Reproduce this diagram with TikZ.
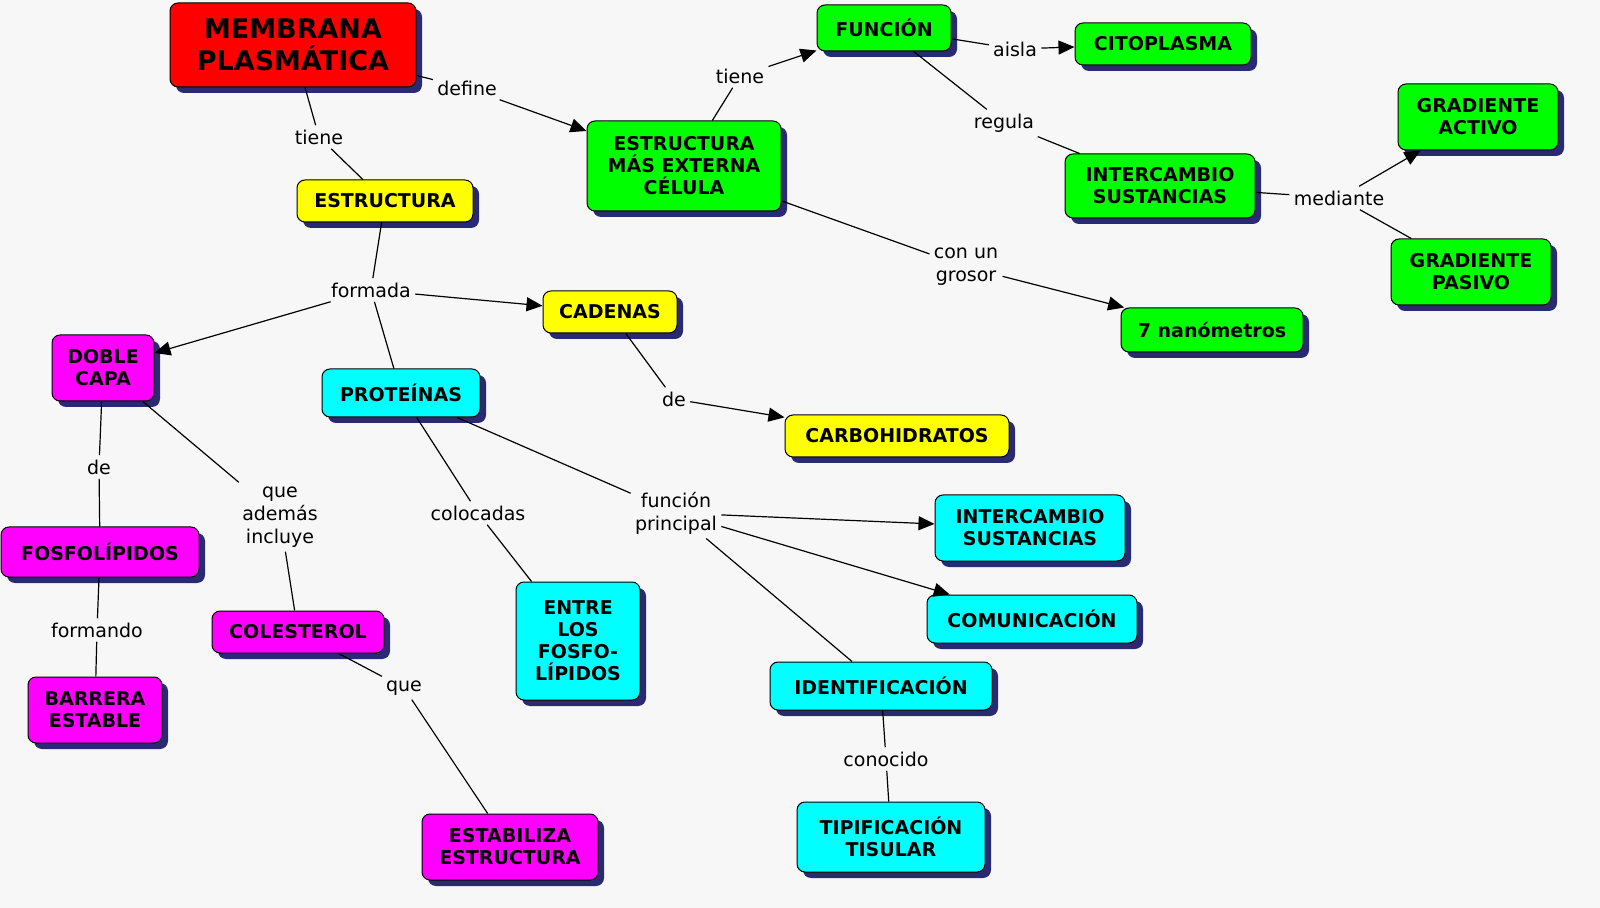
\documentclass[tikz,border=0pt]{standalone}
\usepackage{fontspec}
\setmainfont{DejaVu Sans}
\usetikzlibrary{shadows,arrows.meta}
\definecolor{navy}{HTML}{2A2A72}
\definecolor{cR}{HTML}{FF0000}
\definecolor{cY}{HTML}{FFFF00}
\definecolor{cG}{HTML}{00FF00}
\definecolor{cM}{HTML}{FF00FF}
\definecolor{cC}{HTML}{00FFFF}
\begin{document}
\begin{tikzpicture}[x=0.5pt,y=-0.5pt,
 box/.style={draw=black,line width=0.5pt,rounded corners=4pt,font=\bfseries\fontsize{9.5}{11}\selectfont,align=center,inner sep=1pt,
   drop shadow={shadow xshift=3pt,shadow yshift=-3pt,fill=navy,opacity=1}},
 red/.style={box,fill=cR},
 yel/.style={box,fill=cY},
 grn/.style={box,fill=cG},
 mag/.style={box,fill=cM},
 cya/.style={box,fill=cC},
 lab/.style={fill=white!97!black,font=\fontsize{9.5}{11.5}\selectfont,align=center,inner sep=2pt},
 ln/.style={line width=0.6pt},
 ar/.style={line width=0.6pt,-{Triangle[length=8pt,width=7pt]}}]
\fill[white!97!black] (0,0) rectangle (1600,908);
% nodes
\node[red,minimum width=123pt,minimum height=42pt,font=\bfseries\fontsize{13.5}{16}\selectfont] (mp) at (293,45) {MEMBRANA\\PLASMÁTICA};
\node[yel,minimum width=88pt,minimum height=21pt] (est) at (385,201) {ESTRUCTURA};
\node[grn,minimum width=97pt,minimum height=45pt] (eme) at (684,166) {ESTRUCTURA\\MÁS  EXTERNA\\CÉLULA};
\node[grn,minimum width=67pt,minimum height=23pt] (fun) at (884,28) {FUNCIÓN};
\node[grn,minimum width=88pt,minimum height=21pt] (cit) at (1163,44) {CITOPLASMA};
\node[grn,minimum width=95pt,minimum height=32pt] (int1) at (1160,186) {INTERCAMBIO\\SUSTANCIAS};
\node[grn,minimum width=80pt,minimum height=33pt] (ga) at (1478,117) {GRADIENTE\\ACTIVO};
\node[grn,minimum width=80pt,minimum height=33pt] (gp) at (1471,272) {GRADIENTE\\PASIVO};
\node[grn,minimum width=91pt,minimum height=22pt] (nm) at (1212,330) {7 nanómetros};
\node[yel,minimum width=67pt,minimum height=21pt] (cad) at (610,312) {CADENAS};
\node[yel,minimum width=112pt,minimum height=21pt] (car) at (897,436) {CARBOHIDRATOS};
\node[mag,minimum width=51pt,minimum height=33pt] (dc) at (103,368) {DOBLE\\CAPA};
\node[cya,minimum width=79pt,minimum height=24pt] (pro) at (401,393) {PROTEÍNAS};
\node[mag,minimum width=99pt,minimum height=25pt] (fos) at (100,552) {FOSFOLÍPIDOS};
\node[mag,minimum width=86pt,minimum height=21pt] (col) at (298,632) {COLESTEROL};
\node[mag,minimum width=67pt,minimum height=33pt] (bar) at (95,710) {BARRERA\\ESTABLE};
\node[mag,minimum width=88pt,minimum height=33pt] (eso) at (510,847) {ESTABILIZA\\ESTRUCTURA};
\node[cya,minimum width=62pt,minimum height=59pt] (ent) at (578,641) {ENTRE\\LOS\\FOSFO-\\LÍPIDOS};
\node[cya,minimum width=95pt,minimum height=33pt] (int2) at (1030,528) {INTERCAMBIO\\SUSTANCIAS};
\node[cya,minimum width=105pt,minimum height=24pt] (com) at (1032,619) {COMUNICACIÓN};
\node[cya,minimum width=111pt,minimum height=24pt] (ide) at (881,686) {IDENTIFICACIÓN};
\node[cya,minimum width=94pt,minimum height=35pt] (tip) at (891,837) {TIPIFICACIÓN\\TISULAR};
% labels
\node[lab] (l1) at (467,88) {define};
\node[lab] (l2) at (319,137) {tiene};
\node[lab] (l3) at (740,76) {tiene};
\node[lab] (l4) at (1015,49) {aisla};
\node[lab] (l5) at (1004,123) {regula};
\node[lab] (l6) at (1339,198) {mediante};
\node[lab] (l7) at (966,267) {con un\\grosor};
\node[lab] (l8) at (371,290) {formada};
\node[lab] (l9) at (674,399) {de};
\node[lab] (l10) at (99,467) {de};
\node[lab] (l11) at (280,517) {que\\además\\incluye};
\node[lab] (l12) at (478,513) {colocadas};
\node[lab] (l13) at (676,513) {función\\principal};
\node[lab] (l14) at (97,630) {formando};
\node[lab] (l15) at (404,688) {que};
\node[lab] (l16) at (886,759) {conocido};
% connectors
\draw[ln] (mp) -- (l1); \draw[ar] (l1) -- (eme);
\draw[ln] (mp) -- (l2); \draw[ln] (l2) -- (est);
\draw[ln] (eme) -- (l3); \draw[ar] (l3) -- (fun);
\draw[ln] (fun) -- (l4); \draw[ar] (l4) -- (cit);
\draw[ln] (fun) -- (l5); \draw[ln] (l5) -- (int1);
\draw[ln] (int1) -- (l6); \draw[ar] (l6) -- (ga); \draw[ln] (l6) -- (gp);
\draw[ln] (eme) -- (l7); \draw[ar] (l7) -- (nm);
\draw[ln] (est) -- (l8); \draw[ar] (l8) -- (dc); \draw[ar] (l8) -- (cad); \draw[ln] (l8) -- (pro);
\draw[ln] (cad) -- (l9); \draw[ar] (l9) -- (car);
\draw[ln] (dc) -- (l10); \draw[ln] (l10) -- (fos);
\draw[ln] (dc) -- (l11); \draw[ln] (l11) -- (col);
\draw[ln] (fos) -- (l14); \draw[ln] (l14) -- (bar);
\draw[ln] (col) -- (l15); \draw[ln] (l15) -- (eso);
\draw[ln] (pro) -- (l12); \draw[ln] (l12) -- (ent);
\draw[ln] (pro) -- (l13); \draw[ar] (l13) -- (int2); \draw[ar] (l13) -- (com); \draw[ln] (l13) -- (ide);
\draw[ln] (ide) -- (l16); \draw[ln] (l16) -- (tip);
\pgfresetboundingbox
\useasboundingbox (0,0) rectangle (1600,908);
\end{tikzpicture}
\end{document}
